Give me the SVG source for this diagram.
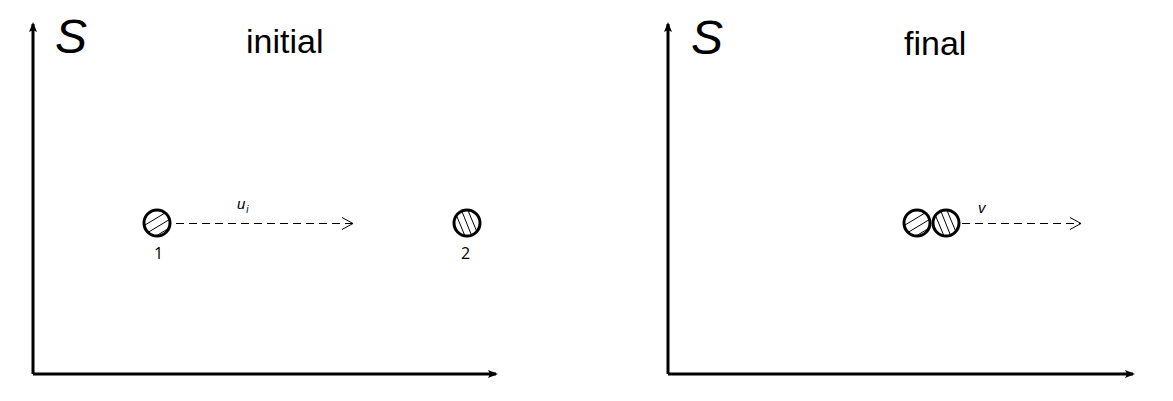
<svg xmlns="http://www.w3.org/2000/svg" width="1173" height="401" viewBox="0 0 1173 401">
<style>
.ax{stroke:#000;stroke-width:3;fill:none}
.ball{stroke:#000;stroke-width:3;fill:none}
.hatch{stroke:#000;stroke-width:1}
.dash{stroke:#000;stroke-width:1;stroke-dasharray:8,5;fill:none}
.big{font-family:"Liberation Sans",Arial,sans-serif;font-size:48px;font-style:italic}
.title{font-family:"Liberation Sans",Arial,sans-serif;font-size:34px}
.num{font-family:"Open Sans","Liberation Sans",sans-serif;font-size:16px}
.vel{font-family:"Liberation Sans",Arial,sans-serif;font-size:15px;font-style:italic}
</style>
<defs>
<marker id="ah" markerWidth="10" markerHeight="8" refX="8" refY="4" orient="auto" markerUnits="userSpaceOnUse">
<path d="M0,0 L10,4 L0,8 L2,4 Z" fill="#000"/>
</marker>
<marker id="oa" markerWidth="14" markerHeight="14" refX="12" refY="7" orient="auto" markerUnits="userSpaceOnUse">
<path d="M1,1 L12,7 L1,13" fill="none" stroke="#000" stroke-width="1"/>
</marker>
<clipPath id="c1"><circle cx="157" cy="223" r="13"/></clipPath>
<clipPath id="c2"><circle cx="467" cy="223" r="13"/></clipPath>
<clipPath id="c3"><circle cx="917" cy="223" r="13"/></clipPath>
<clipPath id="c4"><circle cx="946" cy="223" r="13"/></clipPath>
</defs>

<g id="axes-initial">
<path class="ax" d="M33,374 V24" marker-end="url(#ah)"/>
<path class="ax" d="M33,374 H496" marker-end="url(#ah)"/>
<text class="big" x="55" y="53">S</text>
<text class="title" x="246" y="53">initial</text>
</g>

<g id="axes-final">
<path class="ax" d="M668,374 V24" marker-end="url(#ah)"/>
<path class="ax" d="M668,374 H1133" marker-end="url(#ah)"/>
<text class="big" x="691" y="54">S</text>
<text class="title" x="904" y="55">final</text>
</g>

<g id="connectors">
<path class="dash" d="M176,223.5 H353" marker-end="url(#oa)"/>
<path class="dash" d="M962,223.5 H1081" marker-end="url(#oa)"/>
</g>

<g id="ball1">
<g clip-path="url(#c1)" class="hatch">
<line x1="140" y1="228" x2="170" y2="210"/>
<line x1="142" y1="236" x2="172" y2="218"/>
<line x1="146" y1="242" x2="176" y2="224"/>
</g>
<circle class="ball" cx="157" cy="223" r="13"/>
<text class="num" x="154" y="259">1</text>
</g>

<g id="ball2">
<g clip-path="url(#c2)" class="hatch">
<line x1="455" y1="212" x2="465" y2="236"/>
<line x1="461" y1="209" x2="471" y2="234"/>
<line x1="467" y1="208" x2="477" y2="232"/>
</g>
<circle class="ball" cx="467" cy="223" r="13"/>
<text class="num" x="461" y="259">2</text>
</g>

<g id="label-ui">
<text class="vel" x="237" y="209">u<tspan font-size="10" dy="4" dx="1">i</tspan></text>
</g>

<g id="ball-pair">
<g clip-path="url(#c3)" class="hatch">
<line x1="900" y1="228" x2="930" y2="210"/>
<line x1="902" y1="236" x2="932" y2="218"/>
<line x1="906" y1="242" x2="936" y2="224"/>
</g>
<circle class="ball" cx="917" cy="223" r="13"/>
<g clip-path="url(#c4)" class="hatch">
<line x1="934" y1="212" x2="944" y2="236"/>
<line x1="940" y1="209" x2="950" y2="234"/>
<line x1="946" y1="208" x2="956" y2="232"/>
</g>
<circle class="ball" cx="946" cy="223" r="13"/>
</g>

<g id="label-v">
<text class="vel" x="978" y="213">v</text>
</g>
</svg>
